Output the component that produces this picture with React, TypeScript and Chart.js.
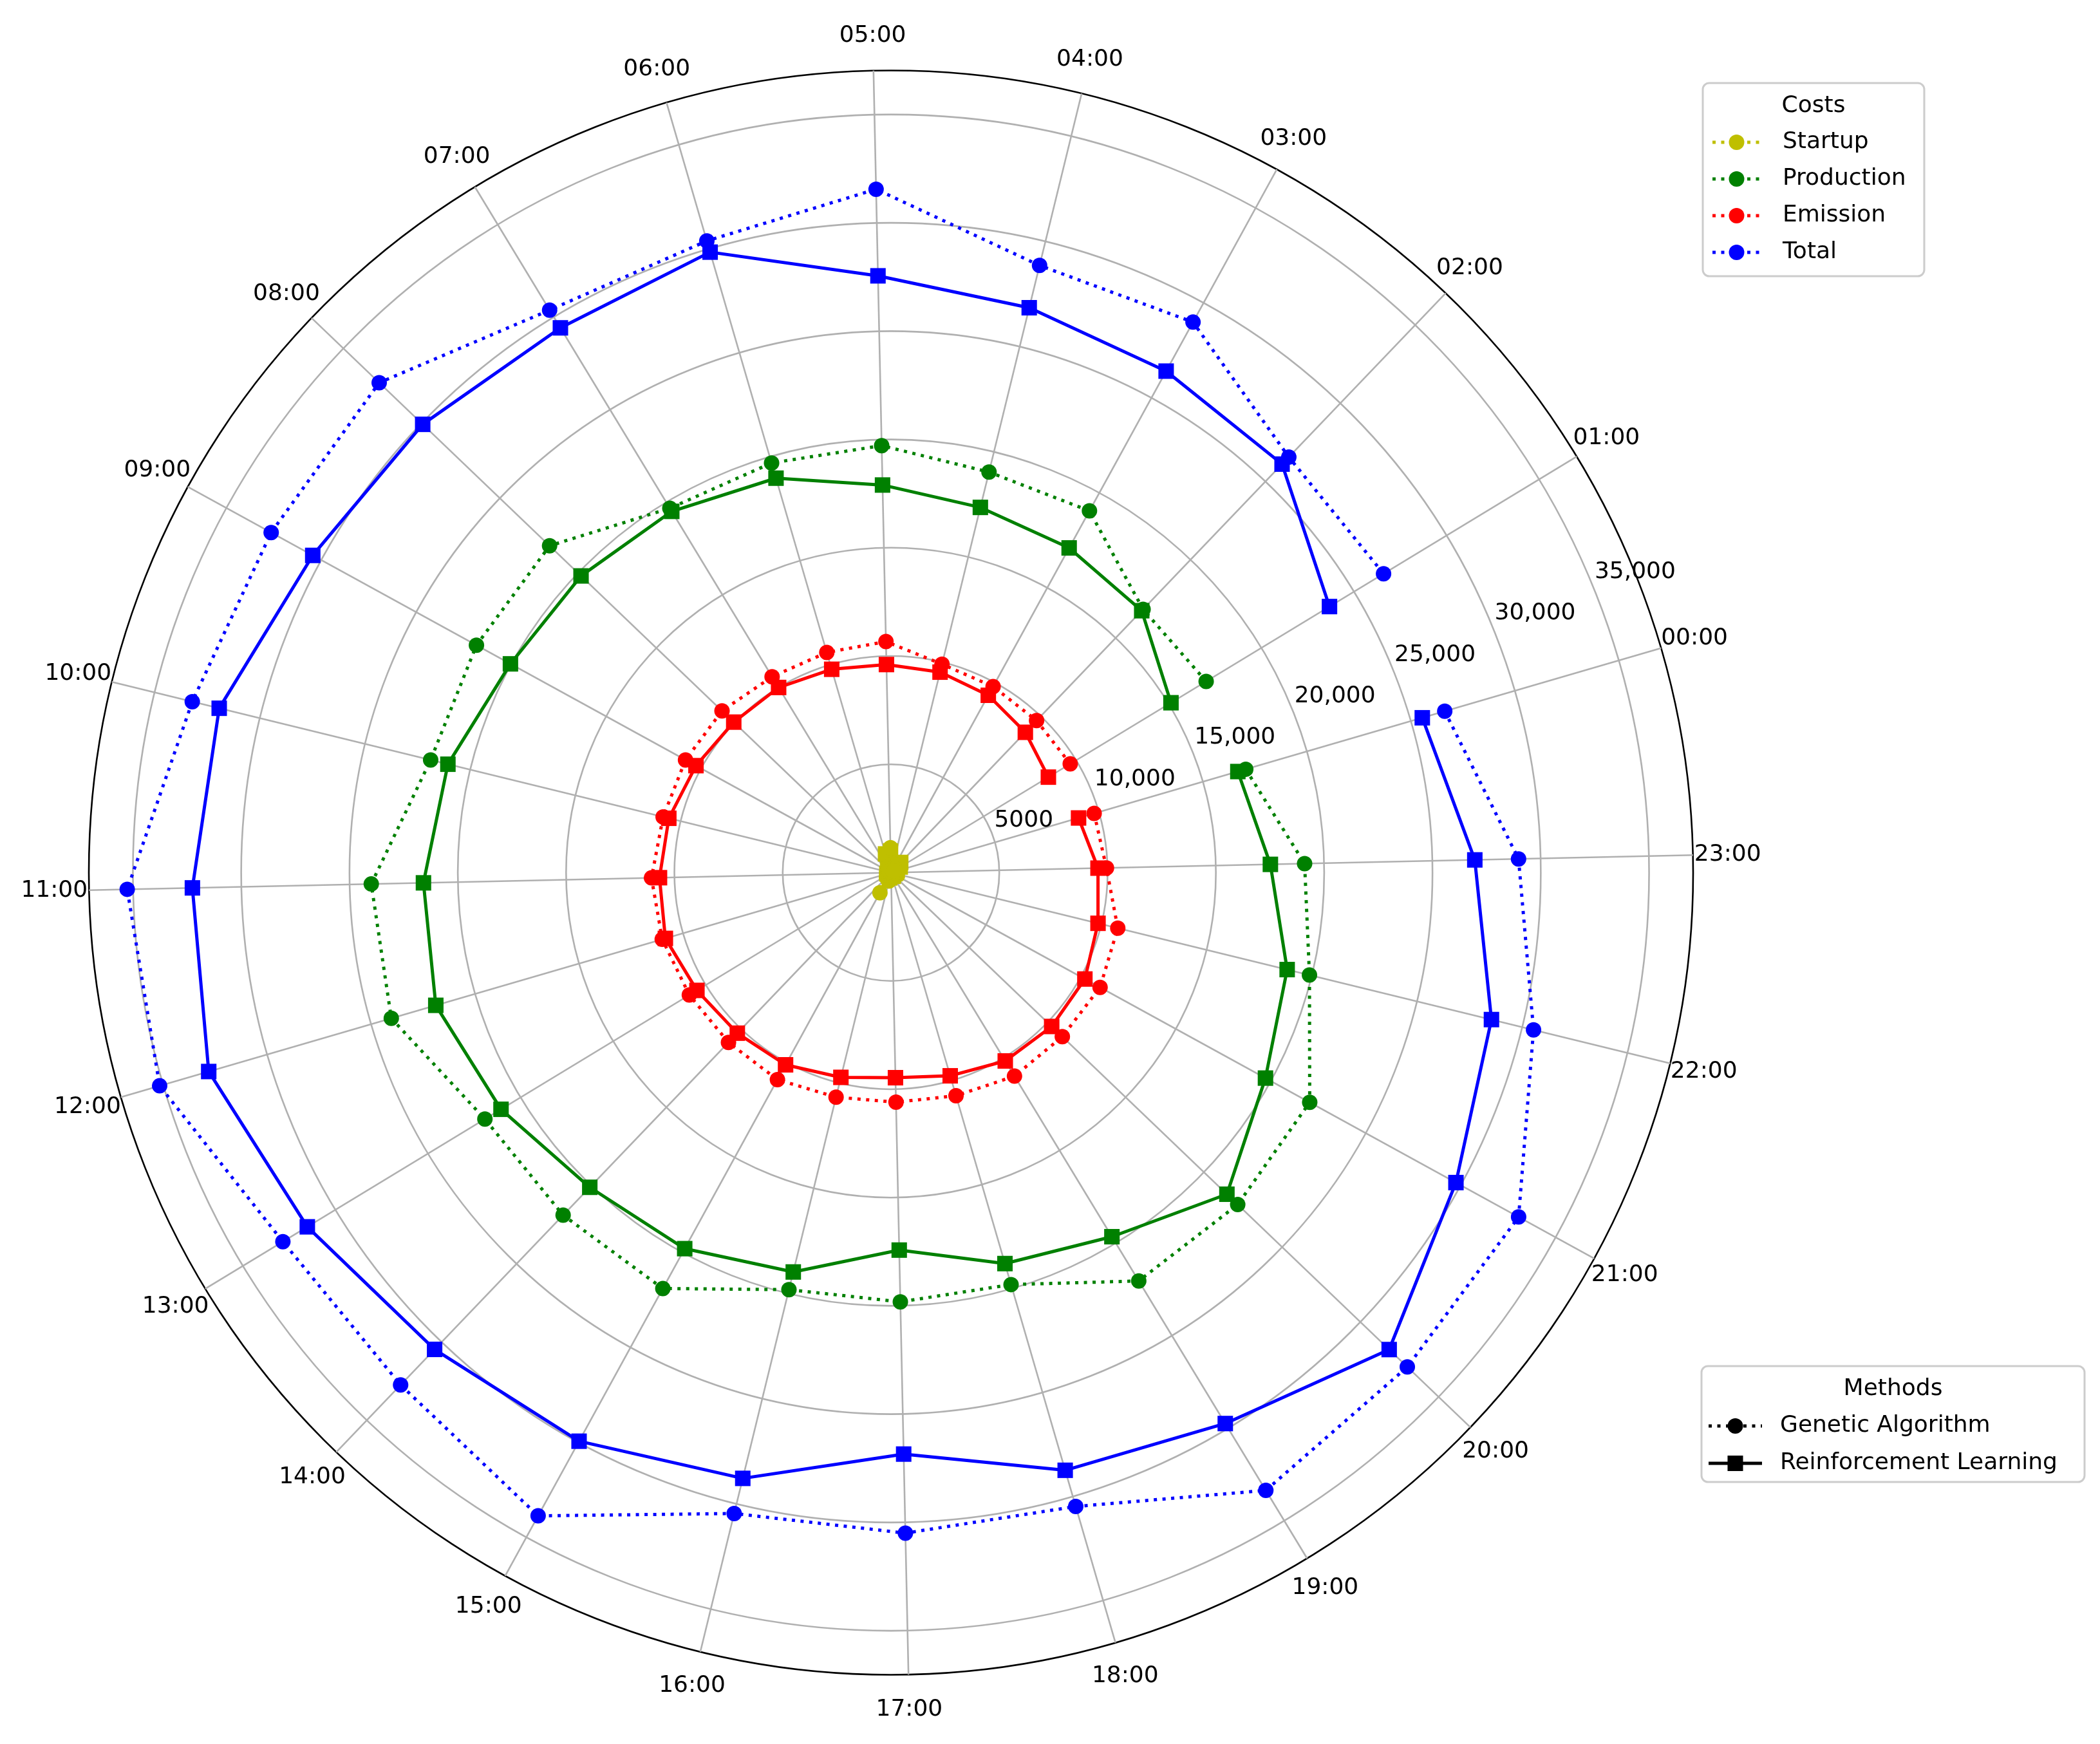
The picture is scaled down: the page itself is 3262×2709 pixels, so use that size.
import React, { useEffect, useRef } from "react";
import { Chart, registerables } from "chart.js";

Chart.register(...registerables);

// ---------------- data ----------------
const HOURS = [
  "00:00", "01:00", "02:00", "03:00", "04:00", "05:00", "06:00", "07:00",
  "08:00", "09:00", "10:00", "11:00", "12:00", "13:00", "14:00", "15:00",
  "16:00", "17:00", "18:00", "19:00", "20:00", "21:00", "22:00", "23:00",
];

const STARTUP_GA = [200, 150, 250, 300, 400, 1150, 300, 200, 150, 100, 150, 200, 150, 200, 300, 1060, 400, 250, 200, 150, 100, 150, 200, 250];
const STARTUP_RL = [300, 500, 650, 300, 200, 1000, 900, 300, 200, 150, 100, 150, 200, 150, 100, 200, 250, 150, 100, 200, 150, 100, 200, 250];

const PRODUCTION_GA = [17060, 17020, 16830, 19050, 19040, 19720, 19700, 19680, 21820, 21830, 21880, 24000, 24030, 21930, 21890, 21900, 19820, 19820, 19810, 22050, 22160, 22050, 19890, 19100];
const PRODUCTION_RL = [16680, 15120, 16740, 17100, 17360, 17900, 18970, 19510, 19810, 20040, 21060, 21590, 21890, 21060, 20110, 19800, 18980, 17430, 18800, 19660, 21470, 19720, 18830, 17520];

const EMISSION_GA = [9770, 9680, 9720, 9800, 9910, 10670, 10590, 10580, 10800, 10820, 10830, 11060, 11000, 10890, 10850, 10900, 10670, 10600, 10730, 10990, 10950, 11010, 10780, 9950];
const EMISSION_RL = [9020, 8500, 8970, 9340, 9530, 9610, 9780, 10000, 10050, 10270, 10560, 10690, 10850, 10480, 10260, 10120, 9730, 9470, 9770, 10170, 10270, 10210, 9840, 9560];

const TOTAL_GA = [26630, 26600, 26560, 28990, 28860, 31560, 30380, 30380, 32710, 32640, 33210, 35270, 35170, 32840, 32740, 33870, 30460, 30500, 30480, 33360, 33000, 33050, 30540, 28980];
const TOTAL_RL = [25550, 23680, 26110, 26410, 26850, 27560, 29840, 29420, 29930, 30450, 31930, 32260, 32810, 31520, 30470, 29940, 28790, 26850, 28740, 29750, 31840, 29750, 28540, 26960];

const R_TICKS = [5000, 10000, 15000, 20000, 25000, 30000, 35000];
const R_TICK_LABELS = ["5000", "10,000", "15,000", "20,000", "25,000", "30,000", "35,000"];

const COST_NAMES = ["Startup", "Production", "Emission", "Total"];
const METHOD_NAMES = ["Genetic Algorithm", "Reinforcement Learning"];

// ---------------- styling / layout ----------------
const W = 3262;
const H = 2709;
const CX = 1384;
const CY = 1355.5;
const RADIUS = 1246;
const START_ANGLE = 73.75; // degrees clockwise from top for the first label (00:00)
const FIRST_HOUR = 0; // hours run counter-clockwise; trace is open between 00:00 and 01:00
const RLABEL_ANGLE = 22.5;
const LABEL_PAD = 54;

const COLORS = ["#bfbf00", "#008000", "#ff0000", "#0000ff"];
const GRID_COLOR = "#b0b0b0";
const GRID_W = 2.6;
const LINE_W = 5;
const DOT = [5, 8.5];
const CIRCLE_R = 12;
const RECT_R = 17;
const FONT = '36px "DejaVu Sans"';

const ALL_VALUES = [
  ...STARTUP_GA, ...STARTUP_RL, ...PRODUCTION_GA, ...PRODUCTION_RL,
  ...EMISSION_GA, ...EMISSION_RL, ...TOTAL_GA, ...TOTAL_RL,
];
const R_MAX = Math.max(...ALL_VALUES) * 1.05;

// label index -> hour index (clockwise on screen = hours descending)
const ORDER = HOURS.map((_, i) => (FIRST_HOUR - i + 24) % 24);

function makeDataset(label: string, values: number[], color: string, ga: boolean) {
  return {
    label,
    data: ORDER.map((h) => values[h]),
    borderColor: color,
    backgroundColor: color,
    borderWidth: LINE_W,
    borderDash: ga ? DOT : [],
    borderCapStyle: "butt",
    borderJoinStyle: "round",
    pointStyle: ga ? "circle" : "rect",
    pointRadius: ga ? CIRCLE_R : RECT_R,
    pointHoverRadius: ga ? CIRCLE_R : RECT_R,
    pointBackgroundColor: color,
    pointBorderColor: color,
    pointBorderWidth: 0,
    fill: false,
    tension: 0,
    clip: false,
  };
}

// The original traces are plain (not closed) polylines: open the radar loop.
const openLoopPlugin = {
  id: "openLoop",
  afterDatasetUpdate(_chart: any, args: any) {
    const line = args.meta && args.meta.dataset;
    if (line) {
      line._loop = false;
      line._fullLoop = false;
      delete line._segments;
      delete line._path;
    }
  },
};

function drawHandle(
  ctx: CanvasRenderingContext2D,
  x0: number,
  x1: number,
  y: number,
  color: string,
  ga: boolean
) {
  ctx.save();
  ctx.strokeStyle = color;
  ctx.fillStyle = color;
  ctx.lineWidth = LINE_W;
  ctx.lineCap = "butt";
  ctx.setLineDash(ga ? DOT : []);
  ctx.beginPath();
  ctx.moveTo(x0, y);
  ctx.lineTo(x1, y);
  ctx.stroke();
  ctx.setLineDash([]);
  const xm = (x0 + x1) / 2;
  if (ga) {
    ctx.beginPath();
    ctx.arc(xm, y, CIRCLE_R, 0, Math.PI * 2);
    ctx.fill();
  } else {
    const s = RECT_R * Math.SQRT1_2;
    ctx.fillRect(xm - s, y - s, 2 * s, 2 * s);
  }
  ctx.restore();
}

function drawBox(ctx: CanvasRenderingContext2D, x: number, y: number, w: number, h: number) {
  const r = 10;
  ctx.save();
  ctx.beginPath();
  ctx.moveTo(x + r, y);
  ctx.lineTo(x + w - r, y);
  ctx.arcTo(x + w, y, x + w, y + r, r);
  ctx.lineTo(x + w, y + h - r);
  ctx.arcTo(x + w, y + h, x + w - r, y + h, r);
  ctx.lineTo(x + r, y + h);
  ctx.arcTo(x, y + h, x, y + h - r, r);
  ctx.lineTo(x, y + r);
  ctx.arcTo(x, y, x + r, y, r);
  ctx.closePath();
  ctx.fillStyle = "rgba(255,255,255,0.8)";
  ctx.fill();
  ctx.strokeStyle = "#cccccc";
  ctx.lineWidth = 3;
  ctx.stroke();
  ctx.restore();
}

const decorPlugin = {
  id: "decor",
  afterDraw(chart: any) {
    const ctx: CanvasRenderingContext2D = chart.ctx;
    const scale = chart.scales.r;
    ctx.save();
    ctx.font = FONT;
    ctx.fillStyle = "#000";

    // angular (hour) labels
    ctx.textAlign = "center";
    ctx.textBaseline = "middle";
    (chart.data.labels as string[]).forEach((lab, i) => {
      const p = scale.getPointPosition(i, scale.drawingArea + LABEL_PAD);
      ctx.fillText(lab, p.x, p.y);
    });

    // radial tick labels
    ctx.textAlign = "left";
    ctx.textBaseline = "alphabetic";
    const a = (RLABEL_ANGLE * Math.PI) / 180;
    R_TICKS.forEach((v, k) => {
      const d = scale.getDistanceFromCenterForValue(v);
      ctx.fillText(R_TICK_LABELS[k], scale.xCenter + d * Math.cos(a) + 5, scale.yCenter - d * Math.sin(a) - 7);
    });

    // legend: Costs
    {
      const bx = 2645, by = 129, bw = 344, bh = 300;
      drawBox(ctx, bx, by, bw, bh);
      ctx.fillStyle = "#000";
      ctx.textAlign = "center";
      ctx.textBaseline = "middle";
      ctx.fillText("Costs", bx + bw / 2, by + 36);
      ctx.textAlign = "left";
      COST_NAMES.forEach((name, k) => {
        const y = by + 92 + k * 57;
        drawHandle(ctx, bx + 15, bx + 90, y, COLORS[k], true);
        ctx.fillStyle = "#000";
        ctx.fillText(name, bx + 124, y);
      });
    }

    // legend: Methods
    {
      const bx = 2643, by = 2122, bw = 595, bh = 180;
      drawBox(ctx, bx, by, bw, bh);
      ctx.fillStyle = "#000";
      ctx.textAlign = "center";
      ctx.textBaseline = "middle";
      ctx.fillText("Methods", bx + bw / 2, by + 36);
      ctx.textAlign = "left";
      METHOD_NAMES.forEach((name, k) => {
        const y = by + 93 + k * 58;
        drawHandle(ctx, bx + 11, bx + 94, y, "#000", k === 0);
        ctx.fillStyle = "#000";
        ctx.fillText(name, bx + 122, y);
      });
    }
    ctx.restore();
  },
};

export default function App() {
  const ref = useRef<HTMLCanvasElement | null>(null);

  useEffect(() => {
    if (!ref.current) return;
    const datasets = [
      makeDataset("Startup GA", STARTUP_GA, COLORS[0], true),
      makeDataset("Startup RL", STARTUP_RL, COLORS[0], false),
      makeDataset("Emission GA", EMISSION_GA, COLORS[2], true),
      makeDataset("Emission RL", EMISSION_RL, COLORS[2], false),
      makeDataset("Production GA", PRODUCTION_GA, COLORS[1], true),
      makeDataset("Production RL", PRODUCTION_RL, COLORS[1], false),
      makeDataset("Total GA", TOTAL_GA, COLORS[3], true),
      makeDataset("Total RL", TOTAL_RL, COLORS[3], false),
    ];
    const chart = new Chart(ref.current, {
      type: "radar",
      data: { labels: ORDER.map((h) => HOURS[h]), datasets: datasets as any },
      options: {
        responsive: false,
        maintainAspectRatio: false,
        devicePixelRatio: 1,
        animation: false,
        layout: { padding: 0 },
        plugins: {
          legend: { display: false },
          tooltip: { enabled: false },
          title: { display: false },
        },
        elements: { line: { tension: 0 } },
        scales: {
          r: {
            min: 0,
            max: R_MAX,
            startAngle: START_ANGLE,
            ticks: { display: false, stepSize: 5000 },
            pointLabels: { display: false },
            grid: {
              circular: true,
              color: (c: any) => (c.tick && c.tick.value >= R_MAX - 1 ? "#000000" : GRID_COLOR),
              lineWidth: GRID_W,
            },
            angleLines: { display: true, color: GRID_COLOR, lineWidth: GRID_W },
            afterBuildTicks: (s: any) => {
              s.ticks = [0, ...R_TICKS, R_MAX].map((v) => ({ value: v }));
            },
            afterFit: (s: any) => {
              s.xCenter = CX;
              s.yCenter = CY;
              s.drawingArea = RADIUS;
            },
          } as any,
        },
      },
      plugins: [openLoopPlugin as any, decorPlugin as any],
    });
    return () => chart.destroy();
  }, []);

  return (
    <div style={{ position: "absolute", left: 0, top: 0, width: W, height: H, background: "#ffffff" }}>
      <canvas ref={ref} width={W} height={H} style={{ width: W, height: H, display: "block" }} />
    </div>
  );
}
